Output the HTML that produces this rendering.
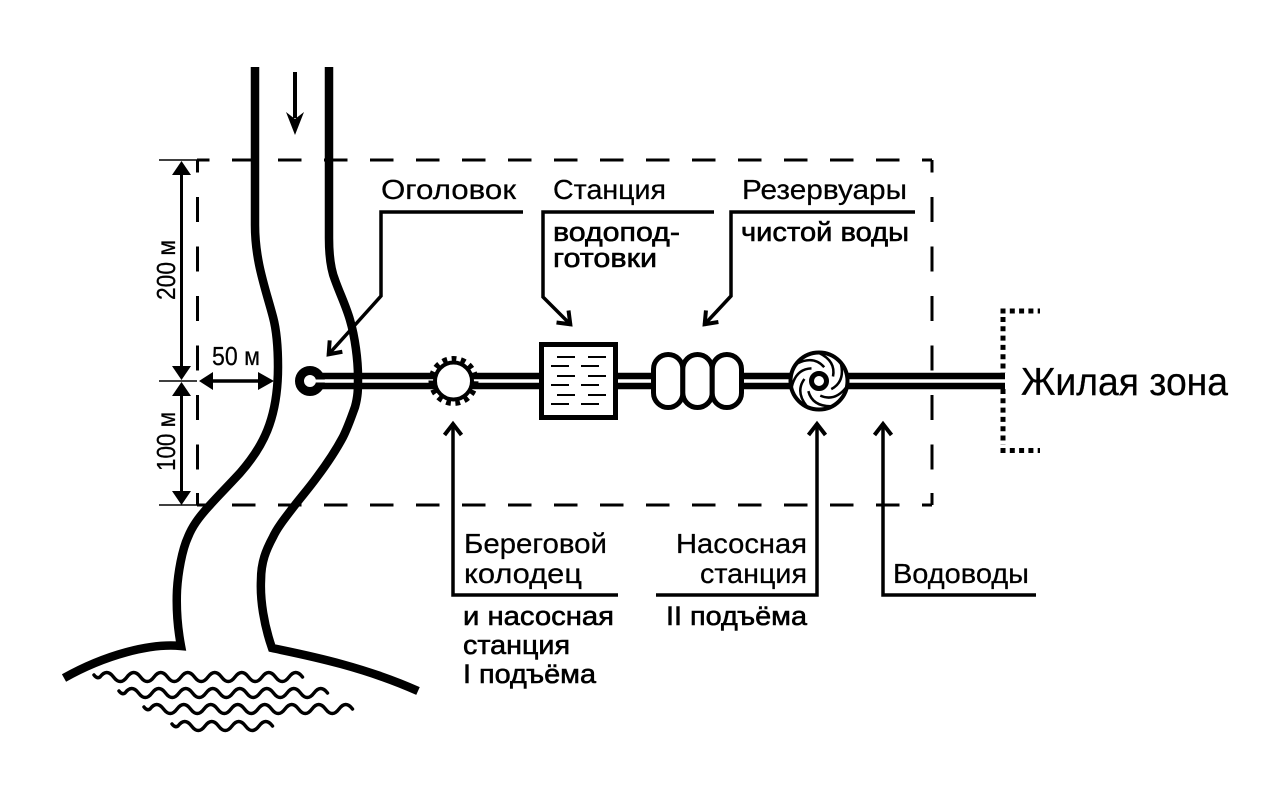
<!DOCTYPE html>
<html lang="ru">
<head>
<meta charset="utf-8">
<style>
html,body{margin:0;padding:0;background:#fff}
svg{display:block}
text{font-family:"Liberation Sans",sans-serif;font-size:28px;fill:#000;stroke:#000;stroke-width:.25px}
.m{stroke-width:.6px;font-size:27px}
.d{font-size:26px}
</style>
</head>
<body>
<svg width="1275" height="786" viewBox="0 0 1275 786" xmlns="http://www.w3.org/2000/svg">
<defs>
<marker id="lead" markerUnits="userSpaceOnUse" markerWidth="28" markerHeight="28" refX="20" refY="14" orient="auto">
<path d="M8 5.500L19 14L8 22.500" fill="none" stroke="#000" stroke-width="4"/>
</marker>
<path id="wave" d="M94 675Q97 679 100 677q6.750 -9 13.500 0t13.500 0t13.500 0t13.500 0t13.500 0t13.500 0t13.500 0t13.500 0t13.500 0t13.500 0t13.500 0t13.500 0t13.500 0t13.500 0t13.500 0"/>
</defs>

<!-- dashed protection zone -->
<g fill="none" stroke="#000" stroke-width="3">
<path d="M197 160H932M197 505H932" stroke-dasharray="23.500 22.500" stroke-dashoffset="11"/>
<path d="M197.500 160V505M932 160V505" stroke-dasharray="25 24.500" stroke-dashoffset="-37"/>
<path d="M197.500 160V172M197.500 493V505M932 160V172M932 493V505"/>
</g>

<!-- river -->
<g fill="none" stroke="#000" stroke-width="8.500">
<path d="M255 67V225C255 262 266 290 273 317C277 332 278 350 278 367C278 420 262 448 240 473C228 486 218 496 210 505C198 518 192 527 188 537C182 550 178 573 177 590C176 612 178 630 181 646C150 643 105 655 64 678" stroke-linejoin="miter"/>
<path d="M329 67V238C329 256 331 270 335 280C340 294 346 306 350 320C355 337 358 360 358 377C358 390 358 396 355 407C351 418 348 427 343 437C335 452 326 465 317 477C309 488 302 496 295 505C285 518 277 528 273 537C266 550 261 562 261 580C260 600 264 625 272 648C300 654 360 665 418 691" stroke-linejoin="miter"/>
</g>
<!-- waves -->
<g fill="none" stroke="#000" stroke-width="3.500" stroke-linecap="round" stroke-linejoin="round">
<use href="#wave"/>
<use href="#wave" transform="translate(25 16)"/>
<use href="#wave" transform="translate(50 32)"/>
<path d="M172 724Q175 728 178 726q6.750 -9 13.500 0t13.500 0t13.500 0t13.500 0t13.500 0t13.500 0t13.500 0"/>
</g>

<!-- flow arrow -->
<path d="M295 72V118" stroke="#000" stroke-width="4"/>
<path d="M286 112L295 119L304 112L295 135Z" fill="#000"/>

<!-- dimensions -->
<g stroke="#000" fill="none">
<path d="M159 160H197M159 381H197M159 505H197" stroke-width="1.500"/>
<path d="M181.500 172V369M181.500 393V494" stroke-width="3"/>
<path d="M210 381H264" stroke-width="3.500"/>
</g>
<g fill="#000">
<path d="M181.500 161L191 175H172Z"/>
<path d="M181.500 380L191 366H172Z"/>
<path d="M181.500 382L191 396H172Z"/>
<path d="M181.500 505L191 491H172Z"/>
<path d="M199 381L213 372V390Z"/>
<path d="M274 381L258 372V390Z"/>
</g>
<text class="d" x="212" y="365" textLength="48" lengthAdjust="spacingAndGlyphs">50 м</text>
<text class="d" transform="translate(175 300) rotate(-90)" textLength="60" lengthAdjust="spacingAndGlyphs">200 м</text>
<text class="d" transform="translate(175 471) rotate(-90)" textLength="59" lengthAdjust="spacingAndGlyphs">100 м</text>

<!-- pipeline -->
<path d="M310 376H1005M310 386H1005" stroke="#000" stroke-width="6.500" fill="none"/>
<circle cx="310" cy="381" r="10.500" fill="#fff" stroke="#000" stroke-width="9"/>
<rect x="310" y="379.500" width="18" height="3" fill="#fff"/>

<!-- shore well -->
<circle cx="453.500" cy="381" r="22.500" fill="none" stroke="#000" stroke-width="5" stroke-dasharray="4.800 4.625" stroke-dashoffset="-0.300"/>
<circle cx="453.500" cy="381" r="18.500" fill="#fff" stroke="#000" stroke-width="4"/>

<!-- treatment station -->
<rect x="541.500" y="344.500" width="74" height="73" fill="#fff" stroke="#000" stroke-width="5"/>
<path d="M557 357h18M588 357h18M551 366h18M581 366h18M557 376h18M588 376h18M551 385h18M581 385h18M557 395h18M588 395h18M551 404h18M581 404h18" stroke="#000" stroke-width="2" fill="none"/>

<!-- reservoirs -->
<g fill="#fff" stroke="#000" stroke-width="5">
<rect x="653.500" y="354.500" width="29.300" height="53" rx="14.600"/>
<rect x="682.800" y="354.500" width="29.400" height="53" rx="14.700"/>
<rect x="712.200" y="354.500" width="29.300" height="53" rx="14.600"/>
</g>

<!-- pump -->
<g transform="translate(819 381)">
<circle r="28.500" fill="#fff" stroke="#000" stroke-width="4"/>
<g fill="none" stroke="#000" stroke-width="2.500">
<path d="M0 -28Q17 -20 14 -4.500"/>
<path d="M0 -28Q17 -20 14 -4.500" transform="rotate(51.430)"/>
<path d="M0 -28Q17 -20 14 -4.500" transform="rotate(102.860)"/>
<path d="M0 -28Q17 -20 14 -4.500" transform="rotate(154.290)"/>
<path d="M0 -28Q17 -20 14 -4.500" transform="rotate(205.710)"/>
<path d="M0 -28Q17 -20 14 -4.500" transform="rotate(257.140)"/>
<path d="M0 -28Q17 -20 14 -4.500" transform="rotate(308.570)"/>
</g>
<circle r="7.500" fill="#fff" stroke="#000" stroke-width="5"/>
</g>

<!-- end bracket -->
<g fill="none" stroke="#000" stroke-width="5">
<path d="M1003 317V373M1003 389V445" stroke-dasharray="5 4.300"/>
<path d="M1000.500 311H1040M1000.500 450.500H1040" stroke-dasharray="5 4.300"/>
</g>
<text x="1021" y="395" style="font-size:39px" textLength="207" lengthAdjust="spacingAndGlyphs">Жилая зона</text>

<!-- leaders -->
<g fill="none" stroke="#000" stroke-width="3.500">
<path d="M523 212H381V296L328 355" marker-end="url(#lead)"/>
<path d="M714 212H543V297L571 325" marker-end="url(#lead)"/>
<path d="M915 212H731V296L704 325" marker-end="url(#lead)"/>
<path d="M618 595H453V423" marker-end="url(#lead)"/>
<path d="M656 595H817V423" marker-end="url(#lead)"/>
<path d="M1036 595H883V423" marker-end="url(#lead)"/>
</g>

<!-- labels -->
<text x="381" y="199" textLength="135" lengthAdjust="spacingAndGlyphs">Оголовок</text>
<text x="553" y="199" textLength="113" lengthAdjust="spacingAndGlyphs">Станция</text>
<text x="742" y="199" textLength="165" lengthAdjust="spacingAndGlyphs">Резервуары</text>
<text class="m" x="553" y="241" textLength="127" lengthAdjust="spacingAndGlyphs">водопод-</text>
<text class="m" x="553" y="267" textLength="104" lengthAdjust="spacingAndGlyphs">готовки</text>
<text class="m" x="741" y="241" textLength="168" lengthAdjust="spacingAndGlyphs">чистой воды</text>
<text x="464" y="553" textLength="143" lengthAdjust="spacingAndGlyphs">Береговой</text>
<text x="464" y="583" textLength="118" lengthAdjust="spacingAndGlyphs">колодец</text>
<text class="m" x="463" y="625" textLength="151" lengthAdjust="spacingAndGlyphs">и насосная</text>
<text class="m" x="463" y="654" textLength="107" lengthAdjust="spacingAndGlyphs">станция</text>
<text class="m" x="463" y="683" textLength="133" lengthAdjust="spacingAndGlyphs">I подъёма</text>
<text x="676" y="553" textLength="131" lengthAdjust="spacingAndGlyphs">Насосная</text>
<text x="700" y="583" textLength="107" lengthAdjust="spacingAndGlyphs">станция</text>
<text class="m" x="666" y="625" textLength="141" lengthAdjust="spacingAndGlyphs">II подъёма</text>
<text x="893" y="583" textLength="136" lengthAdjust="spacingAndGlyphs">Водоводы</text>
</svg>
</body>
</html>
